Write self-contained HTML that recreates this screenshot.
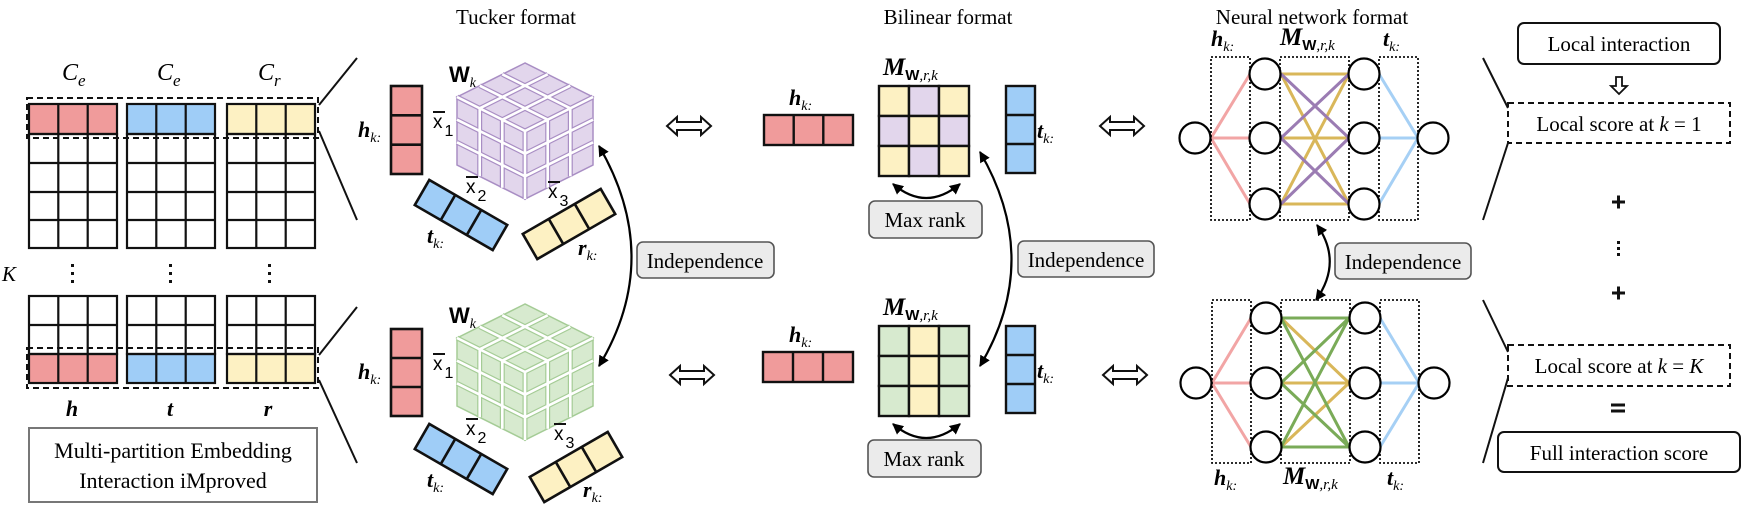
<!DOCTYPE html>
<html><head><meta charset="utf-8"><style>
html,body{margin:0;padding:0;background:#fff;}
svg{display:block;}
text{font-family:"Liberation Serif",serif;fill:#000;}
.sans{font-family:"Liberation Sans",sans-serif;}
</style></head><body>
<svg width="1744" height="509" viewBox="0 0 1744 509" xmlns="http://www.w3.org/2000/svg">
<defs>
<marker id="ah" viewBox="0 0 10 10" refX="9" refY="5" markerWidth="5" markerHeight="5" orient="auto-start-reverse" markerUnits="strokeWidth">
<path d="M0,0 L10,5 L0,10 z" fill="#000"/></marker>
<polygon id="dbl" points="-22,0 -12,-9 -12,-4 12,-4 12,-9 22,0 12,9 12,4 -12,4 -12,9" fill="#fff" stroke="#111" stroke-width="2" stroke-linejoin="miter"/>
<g id="cube">
<polygon points="525,63 457,97 525,131 593,97" stroke-width="1.5"/>
<polygon points="457,97 525,131 525,199 457,165" stroke-width="1.5"/>
<polygon points="525,131 593,97 593,165 525,199" stroke-width="1.5"/>
<g stroke-width="5" fill="none">
<path d="M479.7,108.3 L547.7,74.3 M502.3,119.7 L570.3,85.7 M479.7,85.7 L547.7,119.7 M502.3,74.3 L570.3,108.3 M479.7,108.3 L479.7,176.3 M502.3,119.7 L502.3,187.7 M457,119.7 L525,153.7 M457,142.3 L525,176.3 M547.7,119.7 L547.7,187.7 M570.3,108.3 L570.3,176.3 M525,153.7 L593,119.7 M525,176.3 L593,142.3 M457,97 L525,131 L593,97 M525,131 L525,199"/>
</g>
<g stroke="#fff" stroke-width="2.6" fill="none">
<path d="M479.7,108.3 L547.7,74.3 M502.3,119.7 L570.3,85.7 M479.7,85.7 L547.7,119.7 M502.3,74.3 L570.3,108.3 M479.7,108.3 L479.7,176.3 M502.3,119.7 L502.3,187.7 M457,119.7 L525,153.7 M457,142.3 L525,176.3 M547.7,119.7 L547.7,187.7 M570.3,108.3 L570.3,176.3 M525,153.7 L593,119.7 M525,176.3 L593,142.3 M457,97 L525,131 L593,97 M525,131 L525,199"/>
</g>
</g>
</defs>

<!-- Titles -->
<text x="516" y="24" font-size="21" text-anchor="middle">Tucker format</text>
<text x="948" y="24" font-size="21" text-anchor="middle">Bilinear format</text>
<text x="1312" y="24" font-size="21" text-anchor="middle">Neural network format</text>

<!-- Left matrix -->
<g font-style="italic" font-size="24">
<text x="62" y="80">C<tspan font-size="17" dy="6">e</tspan></text>
<text x="157" y="80">C<tspan font-size="17" dy="6">e</tspan></text>
<text x="258" y="80">C<tspan font-size="17" dy="6">r</tspan></text>
<text x="2" y="281" font-size="21">K</text>
</g>
<g stroke="#111" stroke-width="2.2">
<rect x="29" y="104" width="88" height="30" fill="#f09b9b"/>
<rect x="127" y="104" width="88" height="30" fill="#9fcdf7"/>
<rect x="227" y="104" width="88" height="30" fill="#fdf1c3"/>
<rect x="29" y="354" width="88" height="29" fill="#f09b9b"/>
<rect x="127" y="354" width="88" height="29" fill="#9fcdf7"/>
<rect x="227" y="354" width="88" height="29" fill="#fdf1c3"/>
<rect x="29" y="134" width="88" height="114" fill="none"/>
<rect x="127" y="134" width="88" height="114" fill="none"/>
<rect x="227" y="134" width="88" height="114" fill="none"/>
<rect x="29" y="296" width="88" height="58" fill="none"/>
<rect x="127" y="296" width="88" height="58" fill="none"/>
<rect x="227" y="296" width="88" height="58" fill="none"/>
<path fill="none" d="M58.3,104V248M87.7,104V248M156.3,104V248M185.7,104V248M256.3,104V248M285.7,104V248
M29,163H117M29,192H117M29,220H117M127,163H215M127,192H215M127,220H215M227,163H315M227,192H315M227,220H315
M58.3,296V383M87.7,296V383M156.3,296V383M185.7,296V383M256.3,296V383M285.7,296V383
M29,325H117M127,325H215M227,325H315"/>
</g>
<g stroke="#111" stroke-width="2" fill="none" stroke-dasharray="6,4">
<rect x="27" y="98" width="291" height="40"/>
<rect x="27" y="348" width="291" height="40"/>
</g>
<g fill="#111">
<rect x="71" y="264" width="3" height="3"/><rect x="71" y="272" width="3" height="3"/><rect x="71" y="280" width="3" height="3"/>
<rect x="169" y="264" width="3" height="3"/><rect x="169" y="272" width="3" height="3"/><rect x="169" y="280" width="3" height="3"/>
<rect x="268" y="264" width="3" height="3"/><rect x="268" y="272" width="3" height="3"/><rect x="268" y="280" width="3" height="3"/>
</g>
<g font-style="italic" font-weight="bold" font-size="22" text-anchor="middle">
<text x="72" y="416">h</text><text x="170" y="416">t</text><text x="268" y="416">r</text>
</g>
<rect x="29" y="428" width="288" height="74" fill="#fff" stroke="#777" stroke-width="2"/>
<text x="173" y="458" font-size="22" text-anchor="middle">Multi-partition Embedding</text>
<text x="173" y="488" font-size="22" text-anchor="middle">Interaction iMproved</text>

<!-- zoom lines -->
<g stroke="#111" stroke-width="2">
<line x1="319" y1="105" x2="357" y2="58"/><line x1="319" y1="131" x2="357" y2="220"/>
<line x1="319" y1="355" x2="357" y2="307"/><line x1="319" y1="380" x2="357" y2="463"/>
<line x1="1483" y1="58" x2="1508" y2="108"/><line x1="1508" y1="143" x2="1483" y2="220"/>
<line x1="1483" y1="300" x2="1508" y2="352"/><line x1="1508" y1="378" x2="1483" y2="463"/>
</g>

<!-- Tucker -->
<use href="#cube" fill="#e2d6ec" stroke="#a98ec4"/>
<use href="#cube" transform="translate(0,241)" fill="#d7eacf" stroke="#a5cc96"/>
<g stroke="#111" stroke-width="2.6">
<rect x="391" y="86" width="31" height="88" fill="#f09b9b"/>
<path d="M391,115.3H422M391,144.7H422"/>
<rect x="391" y="329" width="31" height="87" fill="#f09b9b"/>
<path d="M391,358H422M391,387H422"/>
<g transform="translate(461,215) rotate(30)"><rect x="-45" y="-14.5" width="90" height="29" fill="#9fcdf7"/><path d="M-15,-14.5V14.5M15,-14.5V14.5"/></g>
<g transform="translate(569,224) rotate(-30)"><rect x="-45" y="-14.5" width="90" height="29" fill="#fdf1c3"/><path d="M-15,-14.5V14.5M15,-14.5V14.5"/></g>
<g transform="translate(461,459) rotate(30)"><rect x="-45" y="-14.5" width="90" height="29" fill="#9fcdf7"/><path d="M-15,-14.5V14.5M15,-14.5V14.5"/></g>
<g transform="translate(576,467) rotate(-30)"><rect x="-45" y="-14.5" width="90" height="29" fill="#fdf1c3"/><path d="M-15,-14.5V14.5M15,-14.5V14.5"/></g>
</g>
<g font-size="22">
<text x="449" y="82" class="sans" font-weight="bold">W<tspan font-family="Liberation Serif" font-style="italic" font-weight="normal" font-size="14" dy="5">k</tspan></text>
<text x="449" y="323" class="sans" font-weight="bold">W<tspan font-family="Liberation Serif" font-style="italic" font-weight="normal" font-size="14" dy="5">k</tspan></text>
<text x="358" y="137" font-weight="bold" font-style="italic">h<tspan font-weight="normal" font-size="14" dy="5">k:</tspan></text>
<text x="358" y="379" font-weight="bold" font-style="italic">h<tspan font-weight="normal" font-size="14" dy="5">k:</tspan></text>
<text x="427" y="243" font-weight="bold" font-style="italic">t<tspan font-weight="normal" font-size="14" dy="5">k:</tspan></text>
<text x="427" y="487" font-weight="bold" font-style="italic">t<tspan font-weight="normal" font-size="14" dy="5">k:</tspan></text>
<text x="578" y="255" font-weight="bold" font-style="italic">r<tspan font-weight="normal" font-size="14" dy="5">k:</tspan></text>
<text x="583" y="497" font-weight="bold" font-style="italic">r<tspan font-weight="normal" font-size="14" dy="5">k:</tspan></text>
</g>
<!-- x-bar labels -->
<g stroke="#111" stroke-width="2">
<path d="M433,112H445M466,177H478M548,182H560M433,354H445M466,419H478M554,424H566"/>
</g>
<g class="sans" font-size="19">
<text x="433" y="128" class="sans">x<tspan font-size="16" dx="2" dy="8">1</tspan></text>
<text x="466" y="193" class="sans">x<tspan font-size="16" dx="2" dy="8">2</tspan></text>
<text x="548" y="198" class="sans">x<tspan font-size="16" dx="2" dy="8">3</tspan></text>
<text x="433" y="370" class="sans">x<tspan font-size="16" dx="2" dy="8">1</tspan></text>
<text x="466" y="435" class="sans">x<tspan font-size="16" dx="2" dy="8">2</tspan></text>
<text x="554" y="440" class="sans">x<tspan font-size="16" dx="2" dy="8">3</tspan></text>
</g>

<!-- Independence arrows -->
<g stroke="#000" stroke-width="2.2" fill="none">
<path d="M599,146 Q664,258 599,366" marker-start="url(#ah)" marker-end="url(#ah)"/>
<path d="M980,152 Q1043,260 980,366" marker-start="url(#ah)" marker-end="url(#ah)"/>
<path d="M1317,225 Q1343,262 1316,300" marker-start="url(#ah)" marker-end="url(#ah)"/>
<path d="M893,184 Q926,212 960,184" marker-start="url(#ah)" marker-end="url(#ah)"/>
<path d="M893,424 Q926,452 960,424" marker-start="url(#ah)" marker-end="url(#ah)"/>
</g>
<g fill="#ebebeb" stroke="#555" stroke-width="1.6">
<rect x="637" y="242" width="137" height="36" rx="6"/>
<rect x="1018" y="241" width="136" height="36" rx="6"/>
<rect x="1335" y="243" width="136" height="36" rx="6"/>
<rect x="869" y="201" width="113" height="37" rx="6"/>
<rect x="868" y="440" width="113" height="37" rx="6"/>
</g>
<g font-size="21" text-anchor="middle">
<text x="705" y="268">Independence</text>
<text x="1086" y="267">Independence</text>
<text x="1403" y="269">Independence</text>
<text x="925" y="227">Max rank</text>
<text x="924" y="466">Max rank</text>
</g>

<!-- double arrows -->
<use href="#dbl" transform="translate(689,126)"/>
<use href="#dbl" transform="translate(692,375)"/>
<use href="#dbl" transform="translate(1122,126)"/>
<use href="#dbl" transform="translate(1125,375)"/>

<!-- Bilinear -->
<g stroke="#111" stroke-width="2.4">
<rect x="764" y="115" width="89" height="30" fill="#f09b9b"/><path d="M793.7,115V145M823.3,115V145"/>
<rect x="763" y="352" width="90" height="30" fill="#f09b9b"/><path d="M793,352V382M823,352V382"/>
<rect x="879" y="86" width="30" height="30" fill="#fdf1c3"/><rect x="909" y="86" width="30" height="30" fill="#e2d6ec"/><rect x="939" y="86" width="30" height="30" fill="#fdf1c3"/>
<rect x="879" y="116" width="30" height="30" fill="#e2d6ec"/><rect x="909" y="116" width="30" height="30" fill="#fdf1c3"/><rect x="939" y="116" width="30" height="30" fill="#e2d6ec"/>
<rect x="879" y="146" width="30" height="30" fill="#fdf1c3"/><rect x="909" y="146" width="30" height="30" fill="#e2d6ec"/><rect x="939" y="146" width="30" height="30" fill="#fdf1c3"/>
<rect x="879" y="326" width="30" height="30" fill="#d7eacf"/><rect x="909" y="326" width="30" height="30" fill="#fdf1c3"/><rect x="939" y="326" width="30" height="30" fill="#d7eacf"/>
<rect x="879" y="356" width="30" height="30" fill="#d7eacf"/><rect x="909" y="356" width="30" height="30" fill="#fdf1c3"/><rect x="939" y="356" width="30" height="30" fill="#d7eacf"/>
<rect x="879" y="386" width="30" height="30" fill="#d7eacf"/><rect x="909" y="386" width="30" height="30" fill="#fdf1c3"/><rect x="939" y="386" width="30" height="30" fill="#d7eacf"/>
<rect x="1006" y="86" width="29" height="87" fill="#9fcdf7"/><path d="M1006,115H1035M1006,144H1035"/>
<rect x="1006" y="326" width="29" height="87" fill="#9fcdf7"/><path d="M1006,355H1035M1006,384H1035"/>
</g>
<g font-size="22">
<text x="789" y="105" font-weight="bold" font-style="italic">h<tspan font-weight="normal" font-size="14" dy="5">k:</tspan></text>
<text x="789" y="342" font-weight="bold" font-style="italic">h<tspan font-weight="normal" font-size="14" dy="5">k:</tspan></text>
<text x="1037" y="138" font-weight="bold" font-style="italic">t<tspan font-weight="normal" font-size="14" dy="5">k:</tspan></text>
<text x="1037" y="378" font-weight="bold" font-style="italic">t<tspan font-weight="normal" font-size="14" dy="5">k:</tspan></text>
<text x="883" y="75" font-weight="bold" font-style="italic" font-size="25">M<tspan font-family="Liberation Sans" font-style="normal" font-size="15" dy="5">W</tspan><tspan font-weight="normal" font-size="15">,r,k</tspan></text>
<text x="883" y="315" font-weight="bold" font-style="italic" font-size="25">M<tspan font-family="Liberation Sans" font-style="normal" font-size="15" dy="5">W</tspan><tspan font-weight="normal" font-size="15">,r,k</tspan></text>
</g>

<!-- Neural network -->
<g stroke-width="3" fill="none">
<path stroke="#f2a5a5" d="M1211,138L1250,74M1211,138H1250M1211,138L1250,204"/>
<path stroke="#a6d0f5" d="M1379,74L1418,138M1379,138H1418M1379,204L1418,138"/>
<path stroke="#d9b75a" d="M1281,74H1349M1281,138H1349M1281,204H1349M1281,74L1349,204M1281,204L1349,74"/>
<path stroke="#9b7cb3" d="M1281,74L1349,138M1281,138L1349,74M1281,138L1349,204M1281,204L1349,138"/>
</g>
<g stroke-width="3" fill="none">
<path stroke="#f2a5a5" d="M1212,383L1251,318M1212,383H1251M1212,383L1251,447"/>
<path stroke="#a6d0f5" d="M1380,318L1419,383M1380,383H1419M1380,447L1419,383"/>
<path stroke="#d9b75a" d="M1281,383H1349M1281,318L1349,383M1281,447L1349,383"/>
<path stroke="#7aab58" d="M1281,318H1349M1281,447H1349M1281,318L1349,447M1281,447L1349,318M1281,383L1349,318M1281,383L1349,447"/>
</g>
<g stroke="#111" stroke-width="1.8" fill="none" stroke-dasharray="2,2">
<rect x="1211" y="57" width="39" height="163"/><rect x="1280" y="57" width="69" height="163"/><rect x="1379" y="57" width="39" height="163"/>
<rect x="1212" y="300" width="39" height="163"/><rect x="1281" y="300" width="69" height="163"/><rect x="1380" y="300" width="39" height="163"/>
</g>
<g stroke="#000" stroke-width="2.2" fill="#fff">
<circle cx="1195" cy="138" r="15.5"/><circle cx="1265" cy="74" r="15.5"/><circle cx="1265" cy="138" r="15.5"/><circle cx="1265" cy="204" r="15.5"/>
<circle cx="1364" cy="74" r="15.5"/><circle cx="1364" cy="138" r="15.5"/><circle cx="1364" cy="204" r="15.5"/><circle cx="1433" cy="138" r="15.5"/>
<circle cx="1196" cy="383" r="15.5"/><circle cx="1266" cy="318" r="15.5"/><circle cx="1266" cy="383" r="15.5"/><circle cx="1266" cy="447" r="15.5"/>
<circle cx="1365" cy="318" r="15.5"/><circle cx="1365" cy="383" r="15.5"/><circle cx="1365" cy="447" r="15.5"/><circle cx="1434" cy="383" r="15.5"/>
</g>
<g font-size="22">
<text x="1211" y="46" font-weight="bold" font-style="italic">h<tspan font-weight="normal" font-size="14" dy="5">k:</tspan></text>
<text x="1383" y="46" font-weight="bold" font-style="italic">t<tspan font-weight="normal" font-size="14" dy="5">k:</tspan></text>
<text x="1280" y="45" font-weight="bold" font-style="italic" font-size="25">M<tspan font-family="Liberation Sans" font-style="normal" font-size="15" dy="5">W</tspan><tspan font-weight="normal" font-size="15">,r,k</tspan></text>
<text x="1214" y="485" font-weight="bold" font-style="italic">h<tspan font-weight="normal" font-size="14" dy="5">k:</tspan></text>
<text x="1387" y="485" font-weight="bold" font-style="italic">t<tspan font-weight="normal" font-size="14" dy="5">k:</tspan></text>
<text x="1283" y="484" font-weight="bold" font-style="italic" font-size="25">M<tspan font-family="Liberation Sans" font-style="normal" font-size="15" dy="5">W</tspan><tspan font-weight="normal" font-size="15">,r,k</tspan></text>
</g>

<!-- Right column -->
<rect x="1518" y="23" width="202" height="41" rx="6" fill="#fff" stroke="#111" stroke-width="2"/>
<text x="1619" y="51" font-size="21" text-anchor="middle">Local interaction</text>
<polygon points="1616,77 1622,77 1622,86 1627,86 1619,94 1611,86 1616,86" fill="#fff" stroke="#111" stroke-width="1.8"/>
<rect x="1508" y="103" width="222" height="40" fill="none" stroke="#111" stroke-width="2" stroke-dasharray="6,4"/>
<text x="1619" y="131" font-size="21" text-anchor="middle">Local score at <tspan font-style="italic">k</tspan> = 1</text>
<g stroke="#111" stroke-width="3"><path d="M1612,202H1625M1618.5,195.5V208.5M1612,293H1625M1618.5,286.5V299.5M1611,405H1625M1611,411H1625"/></g>
<g fill="#111"><rect x="1617" y="241" width="3" height="3"/><rect x="1617" y="247" width="3" height="3"/><rect x="1617" y="253" width="3" height="3"/></g>
<rect x="1508" y="345" width="222" height="41" fill="none" stroke="#111" stroke-width="2" stroke-dasharray="6,4"/>
<text x="1619" y="373" font-size="21" text-anchor="middle">Local score at <tspan font-style="italic">k</tspan> = <tspan font-style="italic">K</tspan></text>
<rect x="1498" y="432" width="242" height="40" rx="6" fill="#fff" stroke="#111" stroke-width="2"/>
<text x="1619" y="460" font-size="21" text-anchor="middle">Full interaction score</text>
</svg>
</body></html>
